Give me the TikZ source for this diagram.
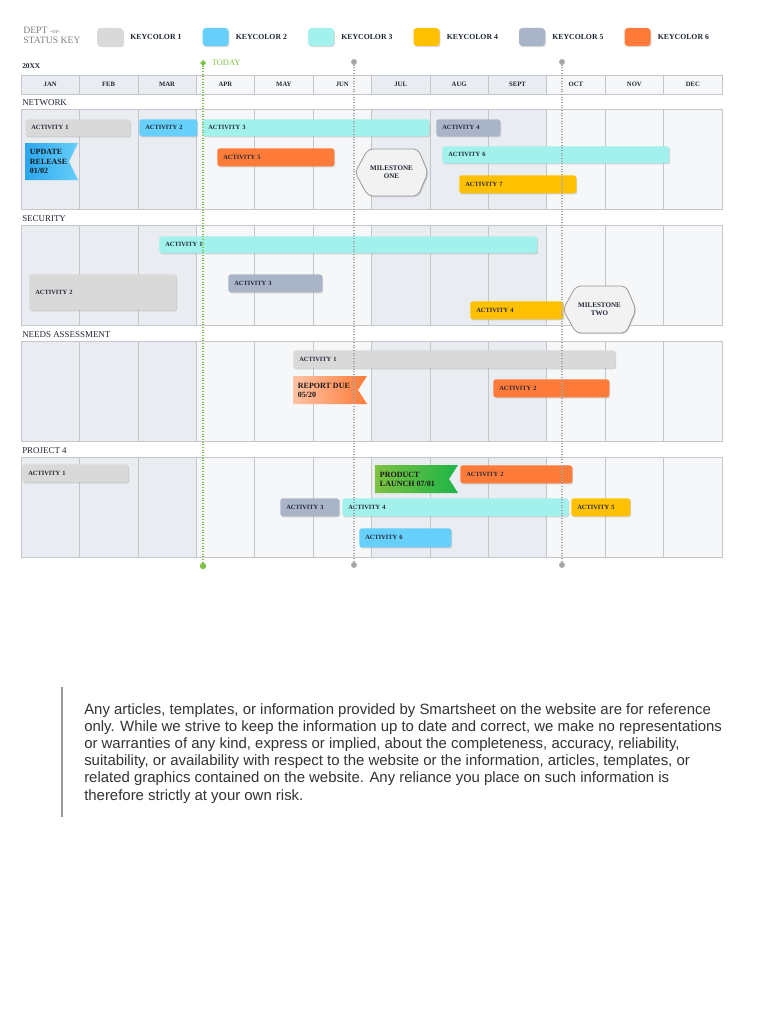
\documentclass[tikz,border=0pt]{standalone}
\usepackage{fontspec}
\setmainfont{Liberation Serif}
\newfontfamily\discfont{Liberation Sans}
\usetikzlibrary{positioning,shadows}

\definecolor{keyone}{HTML}{D9D9D9}
\definecolor{keytwo}{HTML}{66CFFA}
\definecolor{keythree}{HTML}{A2F1EC}
\definecolor{keyfour}{HTML}{FFC000}
\definecolor{keyfive}{HTML}{AAB4C8}
\definecolor{keysix}{HTML}{FF7B39}
\definecolor{qdark}{HTML}{E9ECF0}
\definecolor{qlight}{HTML}{F6F7F9}
\definecolor{gridline}{HTML}{C4C6C9}
\definecolor{todaygreen}{HTML}{7DC142}
\definecolor{milegray}{HTML}{A6A6A6}
\definecolor{labeltext}{HTML}{1F2633}
\definecolor{keygray}{HTML}{7F7F7F}
\definecolor{disctext}{HTML}{333333}
\definecolor{flagblue}{HTML}{2BA6EE}
\definecolor{flaggreen}{HTML}{1DB546}

\tikzset{
  softshadow/.style={drop shadow={shadow xshift=0.7pt, shadow yshift=-0.9pt, opacity=0.3}},
  actbar/.style={rounded corners=2pt, inner xsep=4.5pt, inner ysep=0pt, anchor=north west,
    align=left, text=labeltext, font=\bfseries\fontsize{4.8}{5.5}\selectfont, softshadow},
  flagtext/.style={inner xsep=3.5pt, inner ysep=0pt, anchor=north west, align=left,
    text=black!90, font=\bfseries\fontsize{6}{7.1}\selectfont},
  keyswatch/.style={rounded corners=2.5pt, minimum width=19.5pt, minimum height=13.5pt,
    inner sep=0pt, softshadow},
  keylabel/.style={inner sep=0pt, text=labeltext, font=\bfseries\fontsize{5.8}{6.5}\selectfont},
  month/.style={inner sep=0pt, text=labeltext, font=\bfseries\fontsize{5}{6}\selectfont},
  section/.style={anchor=base west, inner sep=0pt, text=labeltext, font=\fontsize{6.7}{7}\selectfont},
  milestone/.style={fill=black!5, draw=black!40, line width=0.6pt, rounded corners=3.5pt, softshadow},
  milelabel/.style={align=center, inner sep=0pt, text=labeltext, font=\bfseries\fontsize{5.3}{6.2}\selectfont},
  mileline/.style={line width=0.9pt, dash pattern=on 0.7pt off 1.3pt},
}

% bar: name, colour, x1, y1, x2, y2, text
\newcommand\actbar[7]{%
  \pgfmathsetmacro\bartw{(#5-#3)*0.75-9}%
  \pgfmathsetmacro\barh{(#6-#4)*0.75}%
  \node[actbar, fill=#2, text width=\bartw pt, minimum height=\barh pt] (#1) at (#3,#4) {#7};}

% flag: name, left colour, right colour, x1, y1, x2, y2, text
\newcommand\actflag[8]{%
  \pgfmathsetmacro\flagh{(#7-#5)*0.75}%
  \shade[left color=#2, right color=#3] (#4,#5) -- (#6,#5) -- ({#6-9},{(#5+#7)/2}) -- (#6,#7) -- (#4,#7) -- cycle;
  \node[flagtext, minimum height=\flagh pt] (#1) at (#4,#5) {#8};}

\begin{document}
\begin{tikzpicture}[x=0.75pt,y=-0.75pt]
  \fill[white] (0,0) rectangle (768,1024);
  \useasboundingbox (0,0) rectangle (768,1024);

  % key
  \node[anchor=north west, align=left, inner sep=0pt, text=keygray, font=\fontsize{7.3}{7.6}\selectfont]
    (dept) at (23,27) {DEPT {\fontsize{5}{6}\selectfont -or-}\\STATUS KEY};
  \foreach \c [count=\i] in {keyone,keytwo,keythree,keyfour,keyfive,keysix} {
    \node[keyswatch, fill=\c] (key\i) at ({110+105.5*(\i-1)},37) {};
    \node[keylabel, right=5.2pt of key\i] (key\i label) {KEYCOLOR \i};
  }

  % months
  \node[anchor=base west, inner sep=0pt, text=labeltext, font=\bfseries\fontsize{5.5}{6}\selectfont] (year) at (22,69) {20XX};
  \foreach \q/\c in {0/qdark,1/qlight,2/qdark,3/qlight}
    \fill[\c] ({21+175.25*\q},75) rectangle ({21+175.25*(\q+1)},94);
  \foreach \m in {1,...,11}
    \draw[gridline] ({21+58.4167*\m},75) -- ++(0,19);
  \draw[gridline] (21,75) rectangle (722,94);
  \foreach \mn [count=\i from 0] in {JAN,FEB,MAR,APR,MAY,JUN,JUL,AUG,SEPT,OCT,NOV,DEC}
    \node[month] (\mn) at ({50.2+58.4167*\i},84.5) {\mn};

  % panels
  \foreach \py/\secname [count=\s] in {109/NETWORK,225/SECURITY,341/NEEDS ASSESSMENT,457/PROJECT 4} {
    \node[section] (section\s) at (22,{\py-3.5}) {\secname};
    \foreach \q/\c in {0/qdark,1/qlight,2/qdark,3/qlight}
      \fill[\c] ({21+175.25*\q},\py) rectangle ({21+175.25*(\q+1)},{\py+100});
    \foreach \m in {1,...,11}
      \draw[gridline] ({21+58.4167*\m},\py) -- ++(0,100);
    \draw[gridline] (21,\py) rectangle (722,{\py+100});
  }

  % network
  \actbar{net a1}{keyone}{25}{119}{130}{136}{ACTIVITY 1}
  \actbar{net a2}{keytwo}{139}{119}{197}{136}{ACTIVITY 2}
  \actbar{net a3}{keythree}{202}{119}{429}{136}{ACTIVITY 3}
  \actbar{net a4}{keyfive}{436}{119}{500}{136}{ACTIVITY 4}
  \actflag{update}{flagblue}{keytwo}{25}{143}{78}{180}{UPDATE\\RELEASE\\01/02}
  \actbar{net a5}{keysix}{217}{148}{334}{166}{ACTIVITY 5}
  \actbar{net a6}{keythree}{442}{146}{669}{163}{ACTIVITY 6}
  \actbar{net a7}{keyfour}{459}{175}{576}{193}{ACTIVITY 7}
  \coordinate (ms1) at (391.5,172.5);
  \draw[milestone] (ms1) ++(-36.5,0) -- ++(13,-23.5) -- ++(50,0) -- ++(10,23.5) -- ++(-10,23.5) -- ++(-50,0) -- cycle;
  \node[milelabel] (ms1 label) at (ms1) {MILESTONE\\ONE};

  % security
  \actbar{sec a1}{keythree}{159}{236}{537}{253}{ACTIVITY 1}
  \actbar{sec a2}{keyone}{29}{274}{176}{310}{ACTIVITY 2}
  \actbar{sec a3}{keyfive}{228}{274}{322}{292}{ACTIVITY 3}
  \actbar{sec a4}{keyfour}{470}{301}{563}{319}{ACTIVITY 4}
  \coordinate (ms2) at (599.5,309.5);
  \draw[milestone] (ms2) ++(-36.5,0) -- ++(13,-23.5) -- ++(50,0) -- ++(10,23.5) -- ++(-10,23.5) -- ++(-50,0) -- cycle;
  \node[milelabel] (ms2 label) at (ms2) {MILESTONE\\TWO};

  % needs assessment
  \actbar{need a1}{keyone}{293}{350}{615}{368}{ACTIVITY 1}
  \actflag{report}{keysix!45!white}{keysix}{293}{376}{367}{404}{REPORT DUE\\05/20}
  \actbar{need a2}{keysix}{493}{379}{609}{397}{ACTIVITY 2}

  % project 4
  \actbar{proj a1}{keyone}{22}{464}{128}{482}{ACTIVITY 1}
  \actflag{launch}{todaygreen}{flaggreen}{375}{465}{458}{493}{PRODUCT\\LAUNCH 07/01}
  \actbar{proj a2}{keysix}{460}{465}{572}{483}{ACTIVITY 2}
  \actbar{proj a3}{keyfive}{280}{498}{339}{516}{ACTIVITY 3}
  \actbar{proj a4}{keythree}{342}{498}{568}{516}{ACTIVITY 4}
  \actbar{proj a5}{keyfour}{571}{498}{630}{516}{ACTIVITY 5}
  \actbar{proj a6}{keytwo}{359}{528}{451}{547}{ACTIVITY 6}

  % today and milestone lines
  \coordinate (today top) at (203,63);
  \coordinate (today bot) at (203,566);
  \draw[mileline, todaygreen] (today top) -- (today bot);
  \fill[todaygreen] (today top) ++(-3,0) -- ++(3,-3) -- ++(3,3) -- ++(-3,3) -- cycle;
  \fill[todaygreen] (today bot) circle (2.4pt);
  \node[right=6.5pt of today top, inner sep=0pt, text=todaygreen, font=\fontsize{6.3}{7}\selectfont] (today label) {TODAY};
  \foreach \mx [count=\k] in {354,562} {
    \coordinate (mile\k top) at (\mx,62);
    \coordinate (mile\k bot) at (\mx,565);
    \draw[mileline, milegray] (mile\k top) -- (mile\k bot);
    \fill[milegray] (mile\k top) circle (2.2pt);
    \fill[milegray] (mile\k bot) circle (2.2pt);
  }

  % disclaimer
  \draw[line width=1.5pt, black!40] (62,687) -- (62,817);
  \node[anchor=north west, align=left, inner sep=0pt, text=disctext, font=\discfont\fontsize{11.2}{12.9}\selectfont]
    (disclaimer) at (84,703) {Any articles, templates, or information provided by Smartsheet on the website are for reference\\
    only. While we strive to keep the information up to date and correct, we make no representations\\
    or warranties of any kind, express or implied, about the completeness, accuracy, reliability,\\
    suitability, or availability with respect to the website or the information, articles, templates, or\\
    related graphics contained on the website. Any reliance you place on such information is\\
    therefore strictly at your own risk.};
\end{tikzpicture}
\end{document}
